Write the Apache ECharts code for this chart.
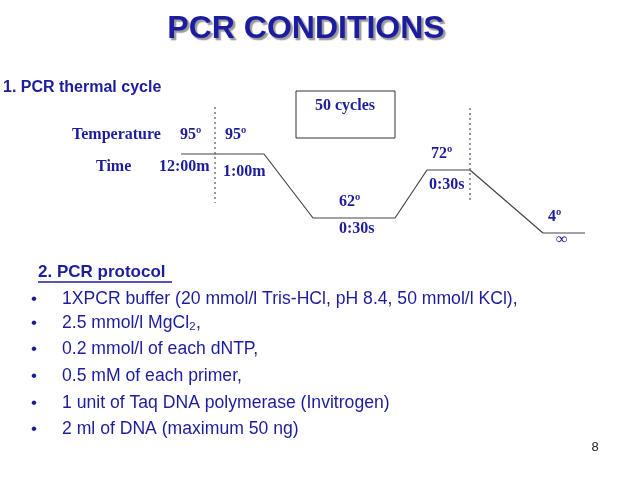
<!DOCTYPE html>
<html><head><meta charset="UTF-8">
<script src="https://cdn.jsdelivr.net/npm/echarts@6/dist/echarts.min.js"></script>
<style>html,body{margin:0;padding:0;background:#fff}#c{width:638px;height:478px}</style>
</head><body><div id="c"></div>
<script>
// profile vertices (slide pixel space)
var profileX = [181, 264, 313, 395, 427, 470, 543, 585];
var profileY = [154, 154, 218, 218, 170, 170, 233, 233];
var stepLabels = [
  ['95º', 180, 135], ['95º', 225, 135], ['12:00m', 159, 167], ['1:00m', 223, 172],
  ['62º', 339, 202], ['0:30s', 339, 229], ['72º', 431, 154], ['0:30s', 429, 185],
  ['4º', 548, 217], ['∞', 556, 240]
];
var protocol = [
  '1XPCR buffer (20 mmol/l Tris-HCl, pH 8.4, 50 mmol/l KCl),',
  '2.5 mmol/l MgCl₂,',
  '0.2 mmol/l of each dNTP,',
  '0.5 mM of each primer,',
  '1 unit of Taq DNA polymerase (Invitrogen)',
  '2 ml of DNA (maximum 50 ng)'
];
var protoY = [299, 323, 349, 376, 403, 429];

var blue = '#1c1c9e';
var serif = '"Liberation Serif", "DejaVu Serif", serif';
var sans = '"Liberation Sans", Arial, sans-serif';
var g = [];
function txt(t, x, y, font, extra) {
  var st = {text:t, font:font, fill:blue, verticalAlign:'middle'};
  for (var k in extra) st[k] = extra[k];
  g.push({type:'text', x:x, y:y, style:st});
}
txt('PCR CONDITIONS', 306, 29, 'bold 32px ' + sans, {align:'center', stroke:'#fff', lineWidth:0.6, textShadowColor:'#999', textShadowOffsetX:2, textShadowOffsetY:2, textShadowBlur:1});
txt('1. PCR thermal cycle', 3, 88, 'bold 16px ' + sans, {textShadowColor:'#aaa', textShadowOffsetX:1.5, textShadowOffsetY:1.5});
g.push({type:'rect', shape:{x:296, y:91, width:99, height:47}, style:{fill:'none', stroke:'#333', lineWidth:1}});
txt('50 cycles', 345, 106, 'bold 16px ' + serif, {align:'center'});
txt('Temperature', 72, 135, 'bold 16px ' + serif);
txt('Time', 96, 167, 'bold 16px ' + serif);
[[215, 107, 203], [470, 108, 203]].forEach(function(d){
  g.push({type:'line', shape:{x1:d[0], y1:d[1], x2:d[0], y2:d[2]}, style:{stroke:'#333', lineDash:[2,3], lineWidth:1}});
});
stepLabels.forEach(function(s){ txt(s[0], s[1], s[2], 'bold 16px ' + serif); });
txt('2. PCR protocol', 38, 272, 'bold 17px ' + sans, {textShadowColor:'#aaa', textShadowOffsetX:1.5, textShadowOffsetY:1.5});
g.push({type:'line', shape:{x1:38, y1:282, x2:172, y2:282}, style:{stroke:blue, lineWidth:1.5}});
protocol.forEach(function(t, i){
  txt('•', 31, protoY[i], '17px ' + sans);
  txt(t, 62, protoY[i], '17.6px ' + sans);
});
g.push({type:'text', x:595, y:447, style:{text:'8', font:'13px ' + sans, fill:'#222', align:'center', verticalAlign:'middle'}});

var chart = echarts.init(document.getElementById('c'));
chart.setOption({
  animation:false,
  grid:{left:0, right:0, top:0, bottom:0},
  xAxis:{type:'value', min:0, max:638, show:false},
  yAxis:{type:'value', min:0, max:478, inverse:true, show:false},
  series:[{type:'line', symbol:'none', lineStyle:{color:'#444', width:1.2},
    data:profileX.map(function(x, i){return [x, profileY[i]];})}],
  graphic:g
});
</script></body></html>
